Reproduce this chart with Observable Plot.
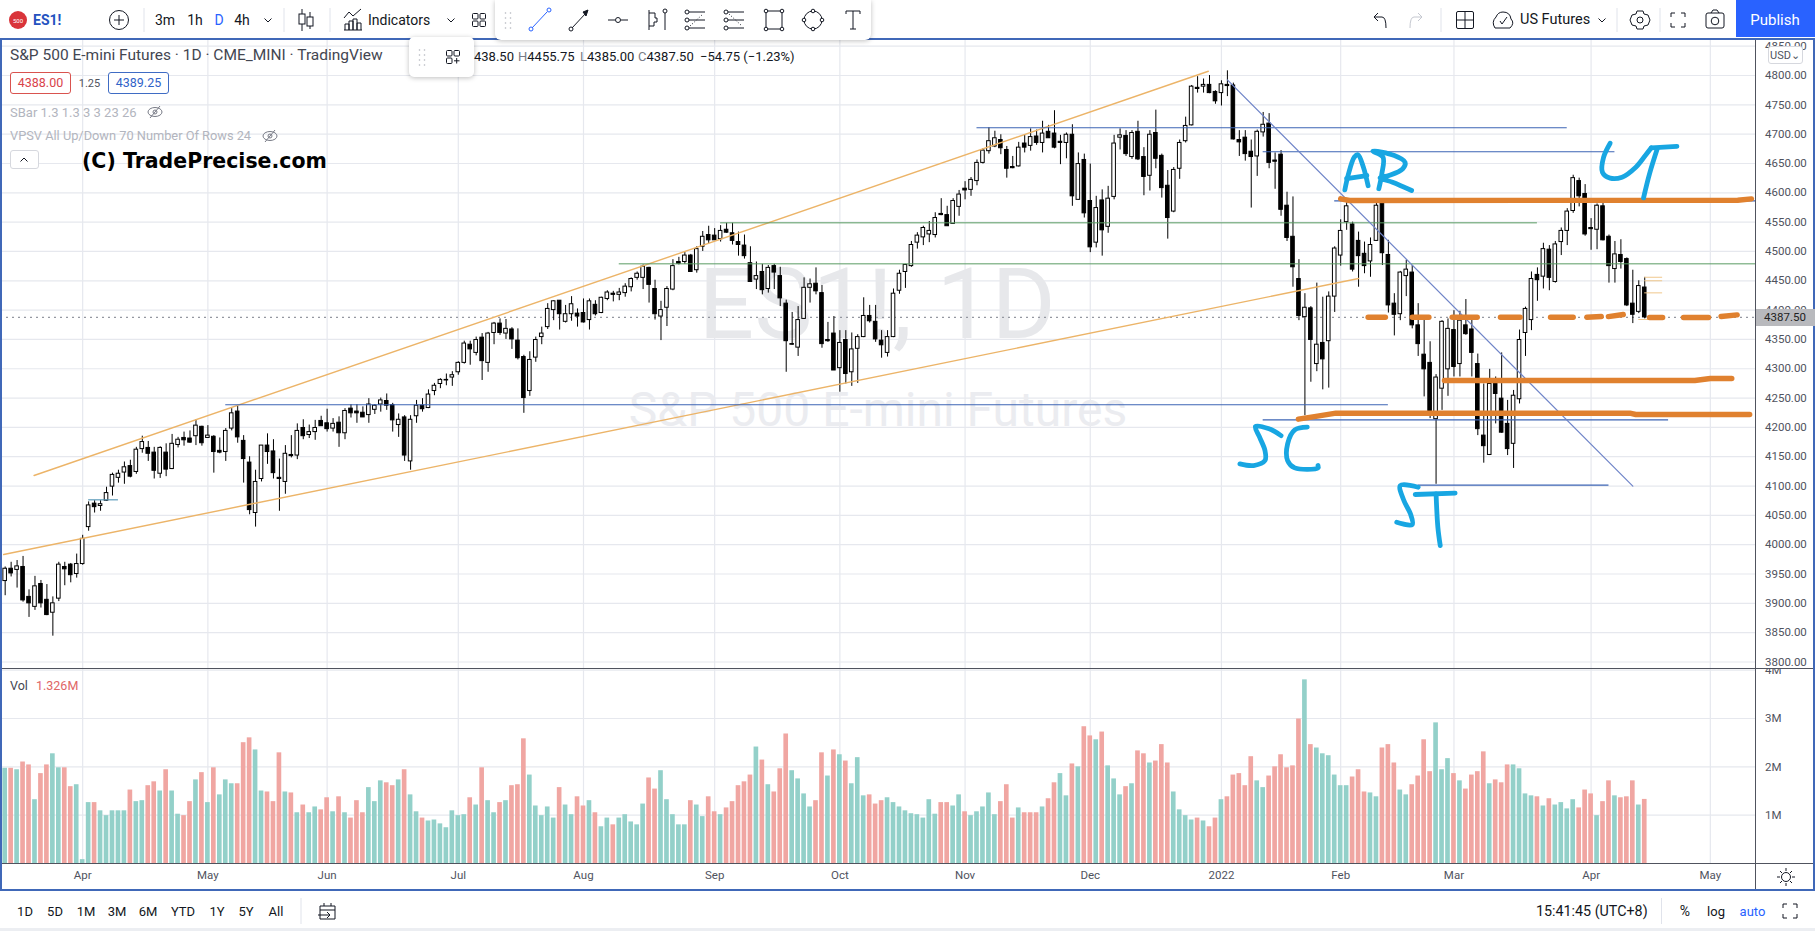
<!DOCTYPE html>
<html><head><meta charset="utf-8">
<script src="https://cdn.jsdelivr.net/npm/d3@7"></script>
<script src="https://cdn.jsdelivr.net/npm/@observablehq/plot@0.6"></script>
<style>
html,body{margin:0;padding:0;background:#fff;width:1815px;height:931px;overflow:hidden;font-family:Roboto,"Liberation Sans",sans-serif;color:#131722}
#stage{position:relative;width:1815px;height:931px;overflow:hidden}
#stage>div,#stage>svg{position:absolute}
.t{position:absolute;white-space:nowrap;line-height:1;transform:translateY(-50%)}
.c{transform:translate(-50%,-50%)}
.box{position:absolute;box-sizing:border-box}
</style></head><body><div id="stage"></div>
<script>
// ---------- values ----------
const opens=[3938,3959,3957,3962,3911,3894,3933,3906,3884,3908,
3962,3966,3950,3967,4030,4070,4066,4075,4099,4114,
4123,4134,4124,4163,4165,4157,4121,4157,4129,4170,
4182,4181,4185,4201,4182,4184,4160,4158,4198,4227,
4177,4140,4054,4112,4169,4159,4114,4107,4153,4152,
4199,4187,4192,4211,4207,4198,4208,4190,4232,4227,
4225,4221,4230,4239,4245,4238,4204,4217,4142,4219,
4237,4233,4262,4274,4280,4285,4294,4310,4341,4327,
4353,4310,4361,4377,4360,4367,4348,4320,4262,4319,
4354,4371,4400,4416,4380,4393,4394,4395,4383,4409,
4395,4419,4428,4426,4429,4439,4455,4455,4472,4436,
4389,4404,4435,4482,4482,4493,4468,4508,4528,4527,
4521,4537,4531,4516,4510,4480,4452,4465,4436,4475,
4458,4411,4342,4336,4385,4438,4445,4429,4349,4360,
4301,4349,4294,4334,4354,4390,4380,4348,4327,4354,
4433,4465,4475,4515,4524,4529,4528,4564,4562,4547,
4576,4607,4605,4620,4651,4671,4679,4690,4673,4644,
4645,4684,4680,4696,4685,4704,4701,4687,4685,4699,
4588,4656,4586,4515,4587,4542,4593,4694,4697,4661,
4704,4661,4629,4702,4663,4612,4568,4641,4688,4715,
4779,4781,4784,4772,4770,4784,4783,4690,4694,4670,
4662,4703,4718,4655,4665,4578,4525,4453,4388,4403,
4308,4344,4347,4423,4493,4550,4546,4518,4496,4483,
4518,4582,4494,4411,4393,4458,4464,4374,4324,4310,
4214,4266,4299,4366,4308,4374,4367,4308,4186,4153,
4277,4249,4206,4172,4248,4361,4383,4460,4457,4503,
4448,4516,4535,4569,4620,4598,4540,4537,4577,4525,
4470,4494,4487,4411,4397,4438.5];
const highs=[3962,3970,3973,3980,3923,3946,3939,3932,3911,3970,
3970,3968,3984,4016,4073,4075,4075,4098,4122,4127,
4141,4144,4166,4185,4176,4166,4167,4172,4188,4183,
4192,4194,4213,4202,4203,4186,4182,4198,4232,4236,
4186,4150,4127,4169,4189,4179,4146,4169,4186,4206,
4213,4204,4212,4219,4231,4215,4218,4232,4239,4239,
4235,4249,4239,4250,4257,4241,4223,4220,4220,4246,
4249,4264,4275,4283,4291,4295,4312,4347,4347,4354,
4360,4362,4379,4385,4384,4370,4368,4323,4329,4354,
4371,4411,4416,4416,4408,4423,4402,4419,4419,4416,
4422,4433,4432,4437,4445,4455,4465,4477,4473,4451,
4415,4440,4486,4490,4499,4495,4508,4534,4543,4539,
4544,4548,4548,4533,4528,4508,4482,4478,4476,4478,
4473,4417,4396,4406,4455,4453,4472,4442,4379,4389,
4365,4365,4361,4358,4421,4408,4408,4365,4365,4436,
4468,4478,4517,4532,4543,4551,4566,4590,4577,4590,
4604,4619,4626,4656,4675,4711,4705,4699,4679,4662,
4686,4698,4709,4707,4722,4715,4740,4698,4702,4716,
4668,4666,4649,4594,4605,4611,4698,4709,4706,4706,
4722,4677,4706,4741,4666,4638,4643,4690,4729,4783,
4798,4794,4800,4774,4791,4808,4787,4706,4706,4690,
4707,4737,4735,4668,4672,4601,4593,4486,4428,4406,
4446,4422,4431,4508,4554,4583,4550,4533,4516,4523,
4582,4584,4519,4428,4466,4485,4476,4411,4383,4346,
4290,4382,4385,4399,4398,4418,4388,4325,4274,4299,
4286,4327,4246,4263,4366,4405,4465,4472,4514,4510,
4517,4540,4573,4630,4625,4614,4556,4581,4582,4528,
4517,4520,4489,4468,4450,4455.75];
const lows=[3913,3945,3926,3902,3876,3888,3892,3879,3844,3903,
3930,3935,3943,3965,4023,4054,4057,4074,4083,4105,
4103,4114,4120,4156,4142,4112,4113,4116,4128,4165,
4168,4173,4169,4168,4181,4122,4155,4142,4194,4173,
4105,4051,4030,4107,4137,4112,4057,4086,4148,4145,
4179,4181,4178,4202,4192,4192,4166,4179,4216,4207,
4217,4207,4222,4226,4229,4192,4183,4142,4127,4207,
4226,4232,4254,4266,4271,4270,4289,4308,4306,4322,
4280,4294,4341,4357,4350,4333,4315,4224,4253,4311,
4341,4367,4382,4366,4378,4381,4371,4378,4366,4390,
4394,4416,4414,4416,4422,4431,4451,4435,4412,4383,
4348,4372,4433,4477,4478,4465,4463,4500,4513,4519,
4516,4531,4511,4492,4487,4448,4435,4426,4429,4435,
4406,4294,4340,4321,4384,4412,4426,4335,4345,4297,
4260,4274,4270,4275,4353,4378,4345,4318,4320,4353,
4427,4437,4473,4504,4510,4515,4523,4561,4543,4546,
4560,4588,4594,4612,4649,4666,4677,4665,4625,4641,
4644,4668,4671,4681,4668,4693,4675,4648,4658,4577,
4587,4557,4498,4506,4492,4531,4588,4673,4662,4657,
4655,4595,4603,4641,4591,4521,4566,4623,4685,4714,
4770,4770,4769,4751,4748,4764,4690,4662,4654,4574,
4628,4695,4641,4606,4560,4517,4439,4382,4220,4277,
4295,4264,4267,4396,4475,4536,4465,4439,4462,4456,
4517,4476,4395,4356,4382,4423,4368,4321,4252,4215,
4103,4229,4253,4286,4286,4357,4286,4186,4139,4152,
4206,4190,4152,4130,4240,4321,4365,4415,4436,4433,
4446,4493,4510,4565,4576,4526,4502,4503,4518,4446,
4446,4470,4406,4377,4394,4385];
const closes=[3959,3951,3963,3905,3900,3929,3900,3880,3900,3966,
3958,3948,3967,4010,4067,4064,4069,4088,4119,4121,
4132,4116,4162,4175,4155,4126,4165,4128,4172,4179,
4178,4174,4203,4173,4186,4158,4157,4194,4224,4183,
4146,4059,4107,4169,4158,4122,4112,4155,4151,4194,
4185,4192,4199,4202,4197,4206,4190,4228,4224,4224,
4217,4239,4237,4246,4237,4212,4213,4152,4213,4237,
4231,4256,4271,4281,4281,4289,4310,4343,4333,4349,
4313,4360,4377,4361,4368,4350,4318,4250,4315,4349,
4360,4402,4415,4393,4393,4410,4389,4379,4415,4393,
4421,4430,4426,4430,4440,4453,4462,4474,4443,4393,
4400,4436,4475,4479,4493,4465,4504,4525,4519,4519,
4535,4532,4518,4511,4492,4448,4458,4434,4472,4464,
4420,4347,4341,4383,4438,4444,4432,4342,4347,4297,
4344,4291,4333,4354,4390,4381,4350,4340,4354,4428,
4462,4477,4511,4527,4540,4535,4557,4562,4543,4586,
4597,4604,4622,4651,4672,4688,4693,4676,4641,4642,
4677,4677,4695,4685,4701,4693,4677,4685,4699,4594,
4649,4565,4507,4574,4536,4590,4684,4698,4666,4702,
4657,4627,4699,4658,4608,4557,4639,4685,4714,4781,
4777,4784,4770,4756,4785,4782,4691,4686,4666,4661,
4704,4716,4651,4653,4571,4523,4473,4390,4404,4349,
4341,4316,4423,4505,4535,4577,4469,4492,4475,4511,
4578,4497,4408,4392,4464,4469,4374,4342,4299,4228,
4285,4380,4368,4303,4382,4359,4327,4197,4168,4274,
4257,4191,4163,4254,4349,4402,4453,4451,4504,4455,
4512,4535,4568,4625,4594,4529,4538,4578,4519,4475,
4495,4482,4408,4392,4441,4387.5];
const volumes=[1.97,1.97,1.94,2.10,2.04,1.32,1.86,2.04,2.27,1.98,
1.98,1.59,1.63,0.08,1.26,1.26,1.09,0.99,1.09,1.09,
1.09,1.52,1.28,1.30,1.61,1.69,1.50,1.94,1.50,1.02,
0.99,1.28,1.73,1.88,1.26,1.98,1.42,1.73,1.65,1.65,
2.50,2.60,2.35,1.50,1.48,1.28,2.29,1.48,1.46,1.05,
1.21,1.05,1.17,1.11,1.36,1.07,1.38,1.05,0.94,1.30,
1.05,1.57,1.28,1.71,1.67,1.61,1.73,1.94,1.42,1.07,
0.94,0.88,0.90,0.82,0.74,1.09,0.99,1.01,1.36,1.21,
1.98,1.30,1.05,1.26,1.30,1.61,1.63,2.58,1.83,1.19,
0.99,1.17,0.94,1.57,1.21,1.01,1.38,1.19,1.30,1.05,
0.76,0.94,0.80,0.94,1.01,0.86,0.80,1.23,1.77,1.54,
1.92,1.32,1.01,0.80,0.80,1.30,1.21,0.97,1.38,1.07,
1.01,1.15,1.28,1.61,1.69,1.83,2.41,2.14,1.63,1.48,
1.96,2.68,1.92,1.75,1.44,1.17,1.30,2.29,1.81,2.35,
2.25,2.12,1.65,2.19,1.40,1.42,1.23,1.30,1.36,1.26,
1.17,1.09,1.03,1.01,0.94,1.32,1.02,1.26,1.26,1.19,
1.42,1.07,0.99,1.07,1.17,1.46,1.01,1.28,1.63,0.94,
1.15,1.05,1.05,1.05,1.17,1.34,1.67,1.86,1.40,2.06,
2.00,2.83,2.64,2.56,2.72,2.02,1.75,1.42,1.59,1.65,
2.33,2.27,2.08,2.12,2.46,2.08,1.48,1.11,0.99,0.90,
0.94,0.88,0.76,0.94,1.32,1.38,1.83,1.86,1.61,2.21,
1.71,1.57,1.81,2.00,2.25,1.98,2.02,2.99,3.80,2.46,
2.39,2.27,2.23,1.83,1.61,1.61,1.79,1.94,1.48,1.46,
1.38,2.39,2.46,2.08,1.52,1.42,1.63,1.81,2.56,1.90,
2.91,1.94,2.17,1.86,1.71,1.54,1.83,1.90,2.31,1.65,
1.73,1.67,2.04,2.04,1.96,1.44,1.40,1.38,1.19,1.34,
1.21,1.26,1.13,1.32,1.15,1.52,1.44,0.99,1.28,1.71,
1.40,1.36,1.38,1.71,1.21,1.326];
const volumeDirection=["TPTPPTPPTT","PPTTTPTTTT","TPTTPPTPTT","PPTPTPTTTP","PPTTPPPTPT","PTTPPTPTPP","PTTTPPTPTT","PTTTTTTTPT","PTTPTPPPTT","TTTPTTPPTP","TTPTTTTTPP","TTTTTPTTPP","TPPPPPTPTP","PPTTTTPPTP","TPTTTPPPTT","TTTTTTTPPT","TPTTTTTPPP","TPPPTPPTTP","TPPTPTTTPT","PPTPPPTTTT","PTPPTPPPPP","TTPPPPPPTP","TTTTTTPPPT","TPPPTTPPPP","TTTPTPPPPT","PPPTTTTPTP","TTTTPPPTPP","TPPPTP"].join("");
const monthTicks=[13,34,54,76,97,119,140,161,182,204,224,243,266,286];
const monthLabels=["Apr","May","Jun","Jul","Aug","Sep","Oct","Nov","Dec","2022","Feb","Mar","Apr","May"];
const priceTicks=[3800,3850,3900,3950,4000,4050,4100,4150,4200,4250,4300,4350,4400,4450,4500,4550,4600,4650,4700,4750,4800,4850];
const volumeTicks=[1,2,3,4];
const volumeTickLabels=["1M","2M","3M","4M"];
const lastPrice=4387.5;

// drawn tools: [bar index, price]
const orangeTrends=[[[4.85,4118],[201.8,4807.3]],[[-0.25,3983.3],[227,4453.9]]];
const blueLevels=[[37,232,4238.5],[163,262,4710.8],[211,270,4669.9],[211,279,4212.9],[237,269,4101.5],[223,293.6,4586.3]];
const tealLevels=[[14,19,4076.5]];
const greenLevels=[[120,257,4548.8],[103,293.6,4478.9]];
const blueTrend=[[205,4792.6],[273,4099.8]];
const tinyLevels=[[275,278,4456],[275,278,4450],[275,278,4429.4],[274,276,4384]];
const orangeStrokes=[
 [[224,4589.7],[225.5,4586.9],[290.6,4587.4],[292.9,4589.7]],
 [[241.4,4279.9],[283.4,4279.9],[286,4283.4],[289.6,4283.4]],
 [[216.9,4214],[219.6,4218.5],[223.2,4224.2],[272.5,4224.2],[273.5,4222],[292.6,4222]],
 [[228.6,4387.9],[231.5,4387.9]],[[236,4387.9],[238.8,4387.9]],[[242.7,4387.9],[246.9,4387.9]],
 [[250.8,4387.9],[254.1,4387.9]],[[259.2,4387.9],[263,4387.9]],[[265.3,4387.9],[267.7,4389]],
 [[268.9,4389],[271.4,4392.5]],[[275.8,4387.4],[278,4387.4]],[[281.5,4387.4],[285.7,4387.4]],
 [[287.8,4389],[290.5,4391.9]]];
const blueInk=[
 [[224.7,4605],[225.3,4632],[226.3,4661],[226.9,4665],[227.8,4644],[228.6,4612]],
 [[225,4624],[228.4,4629.5]],
 [[230.4,4607],[230.9,4632.3],[231.1,4660.8],[229.4,4671],[233,4663.6],[234.8,4652.2],[234.4,4640.9],[232.1,4629.5],[230.6,4625.5],[232.7,4618],[235.9,4603.9]],
 [[214,4186],[212,4197.5],[209.7,4201.5],[210.4,4183.3],[211.3,4160.6],[211.3,4143.5],[209.4,4135],[207.1,4137.8]],
 [[218.4,4200.4],[216.3,4195.8],[215.1,4172],[215.1,4143.5],[216.3,4131],[220.2,4131],[220.2,4135]],
 [[237,4098],[234,4100.9],[234.6,4075.3],[235.7,4052.6],[236,4034.4],[233.4,4038.4]],
 [[236.5,4085.6],[243.2,4087.8]],
 [[240,4086.7],[240.3,4029.8],[240.7,3998.6]],
 [[269.2,4684.6],[268.1,4660.8],[267.9,4635.2],[269.2,4625],[271.2,4626.7],[273.5,4643.7],[275.1,4663.6],[276.1,4676.7]],
 [[276.1,4676.7],[280.4,4679]],
 [[277.1,4675],[275.8,4632.3],[274.8,4591.4]]];

// ---------- tables ----------
const bars=opens.map((o,i)=>({i,open:o,high:highs[i],low:lows[i],close:closes[i],vol:volumes[i],dir:volumeDirection[i]}));
const upBars=bars.filter(b=>b.close>=b.open), downBars=bars.filter(b=>b.close<b.open);
const GRID="#e6e8ee", AXIS="#50535e", INK="#131722";
const xDomain=[-0.783,293.66];
const levelMark=(rows,stroke,w=1)=>Plot.ruleY(rows,{x1:d=>d[0],x2:d=>d[1],y:d=>d[2],stroke,strokeWidth:w});
const lineOf=(pts,o)=>Plot.line(pts,{x:d=>d[0],y:d=>d[1],...o});

const price=Plot.plot({
 width:1815,height:629,marginTop:0,marginBottom:0,marginLeft:0,marginRight:59.5,
 style:{fontFamily:"Roboto,sans-serif",fontSize:"11.5px",background:"transparent",color:AXIS},
 x:{domain:xDomain,axis:null},
 y:{domain:[3788.9,4861.4]},
 marks:[
  Plot.ruleX(monthTicks,{stroke:GRID,strokeWidth:1.2}),
  Plot.ruleY(priceTicks,{stroke:GRID,strokeWidth:1.2}),
  Plot.text([{x:116.3,y:4406,t:"ES1!, 1D"}],{x:"x",y:"y",text:"t",textAnchor:"start",fontSize:98,fill:"#e7e8eb"}),
  Plot.text([{x:104.6,y:4228.8,t:"S&P 500 E-mini Futures"}],{x:"x",y:"y",text:"t",textAnchor:"start",fontSize:48,fill:"#ebecf0"}),
  Plot.ruleY([lastPrice],{stroke:"#9598a1",strokeWidth:1.3,strokeDasharray:"2 4"}),
  Plot.ruleX(bars,{x:"i",y1:"low",y2:"high",stroke:"#000",strokeWidth:1}),
  Plot.rect(upBars,{x1:d=>d.i-0.3,x2:d=>d.i+0.3,y1:"open",y2:"close",fill:"#fff",stroke:"#000",strokeWidth:1}),
  Plot.rect(downBars,{x1:d=>d.i-0.3,x2:d=>d.i+0.3,y1:"open",y2:"close",fill:"#000",stroke:"#000",strokeWidth:1}),
  ...orangeTrends.map(t=>lineOf(t,{stroke:"#ecb468",strokeWidth:1.4})),
  levelMark(blueLevels,"#3d65b4",1.1),
  levelMark(tealLevels,"#4f93b4",1.1),
  levelMark(greenLevels,"#5a9c63",1),
  lineOf(blueTrend,{stroke:"#6f84c8",strokeWidth:1.2}),
  levelMark(tinyLevels,"#f0c78c",1),
  ...orangeStrokes.map(s=>lineOf(s,{stroke:"#e0812f",strokeWidth:5.4,strokeLinecap:"round",strokeLinejoin:"round"})),
  ...blueInk.map(s=>lineOf(s,{stroke:"#18a6e2",strokeWidth:4.8,strokeLinecap:"round",strokeLinejoin:"round",curve:"catmull-rom"})),
  Plot.axisY({anchor:"right",ticks:priceTicks,tickSize:0,tickPadding:9,label:null,tickFormat:d=>d.toFixed(2),fill:AXIS})
 ]
});

const volume=Plot.plot({
 width:1815,height:222,marginTop:0,marginBottom:27,marginLeft:0,marginRight:59.5,
 style:{fontFamily:"Roboto,sans-serif",fontSize:"11.5px",background:"transparent",color:AXIS},
 x:{domain:xDomain},
 y:{domain:[0,4.035]},
 marks:[
  Plot.ruleX(monthTicks,{stroke:GRID,strokeWidth:1.2}),
  Plot.ruleY(volumeTicks,{stroke:GRID,strokeWidth:1.2}),
  Plot.rectY(bars.filter(b=>b.dir==="T"),{x1:d=>d.i-0.39,x2:d=>d.i+0.39,y1:0,y2:"vol",fill:"#93d0c9"}),
  Plot.rectY(bars.filter(b=>b.dir==="P"),{x1:d=>d.i-0.39,x2:d=>d.i+0.39,y1:0,y2:"vol",fill:"#f0a6a2"}),
  Plot.axisY({anchor:"right",ticks:volumeTicks,tickSize:0,tickPadding:9,label:null,tickFormat:d=>volumeTickLabels[volumeTicks.indexOf(d)],fill:AXIS}),
  Plot.axisX({ticks:monthTicks,tickSize:0,tickPadding:7,label:null,tickFormat:d=>monthLabels[monthTicks.indexOf(d)],fill:AXIS})
 ]
});

// ---------- page ----------
const stage=document.getElementById("stage");
const place=(el,l,t)=>{const w=document.createElement("div");w.style.cssText=`left:${l}px;top:${t}px`;w.appendChild(el);stage.appendChild(w);};
place(price,0,39); place(volume,0,668);

const html=(s)=>{const w=document.createElement("div");w.style.cssText="left:0;top:0;width:1815px;height:931px";w.innerHTML=s;stage.appendChild(w);};
const box=(l,t,w,h,st)=>`<div class="box" style="left:${l}px;top:${t}px;width:${w}px;height:${h}px;${st}"></div>`;
const T=(x,y,s,st="",c=false)=>`<div class="t${c?" c":""}" style="left:${x}px;top:${y}px;${st}">${s}</div>`;
const CT=(x,y,s,st="")=>T(x,y,s,st,true);
const BLUE="#2962ff",FRAME="#4068b8";
let h="";
// frame and panel rules
h+=box(0,0,1815,38,"background:#fff");
h+=box(0,890,1815,41,"background:#fff");
h+=box(0,928,1815,3,"background:#eceef2");
h+=box(0,38,1815,2.4,`background:${FRAME}`);
h+=box(0,888.6,1815,2.4,`background:${FRAME}`);
h+=box(0,38,2.4,853,`background:${FRAME}`);
h+=box(1812.8,38,2.2,853,`background:${FRAME}`);
h+=box(2,667.6,1811,1.4,"background:#50535e");
h+=box(2,862.6,1811,1,"background:#50535e");
h+=box(1755,40,1,849,"background:#50535e");
// last price tag
h+=box(1755.6,309,59,17,"background:#b8b9bd");
h+=CT(1785,317.5,"4387.50","font-size:11.5px;color:#222");
// usd button
h+=box(1768,46,35,18,"background:#fff;border:1px solid #d6d8de;border-radius:3px");
h+=CT(1785,55,"USD&#8964;","font-size:11px;color:#50535e");
// floating bars
h+=box(495,0,376,40,"background:#fff;border-radius:0 0 6px 6px;box-shadow:0 1px 5px rgba(0,0,0,.25)");
h+=box(409,37,65,40,"background:#fff;border-radius:5px;box-shadow:0 1px 5px rgba(0,0,0,.25)");
// toolbar text
const tb="font-size:14px;color:#131722";
h+=T(33,20,"ES1!","font-size:14px;font-weight:700;color:#2452c0");
h+=CT(165,20,"3m",tb);h+=CT(195,20,"1h",tb);h+=CT(219,20,"D",tb+";color:#2962ff");h+=CT(242,20,"4h",tb);
h+=T(368,20,"Indicators",tb);
h+=T(1520,20,"US Futures","font-size:14.5px;color:#131722");
h+=box(1735.6,0,79.4,37,`background:${BLUE}`);
h+=CT(1775,20,"Publish","font-size:15px;color:#fff");
// legend text
h+=T(10,56,'S&amp;P 500 E-mini Futures · 1D · CME_MINI · TradingView',"font-size:15.5px;color:#434651");
const leg="font-size:13px;color:#131722";
h+=T(474,56,'438.50',leg);
h+=T(518,56,'<span style="color:#787b86">H</span>4455.75',leg);
h+=T(580,56,'<span style="color:#787b86">L</span>4385.00',leg);
h+=T(638,56,'<span style="color:#787b86">C</span>4387.50',leg);
h+=T(700,56,'−54.75 (−1.23%)',leg);
h+=box(10,72,61,22,"background:#fff;border:1px solid #d9534f;border-radius:3px");
h+=CT(40.5,83,"4388.00","font-size:12.5px;color:#d9434a");
h+=CT(89.5,83,"1.25","font-size:11px;color:#50535e");
h+=box(108,72,61,22,"background:#fff;border:1px solid #3f6cc4;border-radius:3px");
h+=CT(138.5,83,"4389.25","font-size:12.5px;color:#2f62c8");
h+=T(10,112,"SBar 1.3 1.3 3 3 23 26","font-size:13px;color:#b2b5be");
h+=T(10,136,"VPSV All Up/Down 70 Number Of Rows 24","font-size:12.8px;color:#b2b5be");
h+=box(10,150,28.5,19,"background:#fff;border:1px solid #d6d8de;border-radius:3px");
h+=T(82,161,"(C) TradePrecise.com","font-family:'DejaVu Sans',sans-serif;font-weight:700;font-size:20.5px;color:#000");
h+=T(10,686,"Vol","font-size:12.5px;color:#434651");
h+=T(36,686,"1.326M","font-size:12.5px;color:#e06666");
// footer
const fb="font-size:13px;color:#131722";
[["1D",25],["5D",55],["1M",86],["3M",117],["6M",148],["YTD",183],["1Y",217],["5Y",246],["All",276]].forEach(([s,x])=>h+=CT(x,911,s,fb));
h+=T(1536,911,"15:41:45 (UTC+8)","font-size:14.3px;color:#131722");
h+=CT(1685,911,"%","font-size:14px;color:#131722");h+=CT(1716,911,"log",fb);h+=CT(1752.5,911,"auto",fb+";color:#2962ff");
html(h);

// chrome icons
const ic=(x,y,inner,st='stroke="#131722"')=>`<g transform="translate(${x},${y})" fill="none" ${st} stroke-width="1">${inner}</g>`;
const sep=(x,y1,y2)=>`<line x1="${x}" x2="${x}" y1="${y1}" y2="${y2}" stroke="#e0e3eb"/>`;
const chev=(x,y)=>ic(x,y,'<path d="M-3.5,-1.5 L0,2 L3.5,-1.5"/>');
const grid4=(x,y,plus)=>ic(x,y,`<rect x="-6.5" y="-6.5" width="5.5" height="5.5" rx="1"/><rect x="1" y="-6.5" width="5.5" height="5.5" rx="1"/><rect x="-6.5" y="1" width="5.5" height="5.5" rx="1"/>`+(plus?'<path d="M1,3.8 H6.5 M3.7,1 V6.5"/>':'<rect x="1" y="1" width="5.5" height="5.5" rx="1"/>'));
const grip=(x,y)=>ic(x,y,[-7,-2,3,8].map(d=>`<circle cx="-2.5" cy="${d}" r=".8" fill="#b2b5be" stroke="none"/><circle cx="2.5" cy="${d}" r=".8" fill="#b2b5be" stroke="none"/>`).join(""));
const eye=(x,y)=>ic(x,y,'<ellipse cx="0" cy="0" rx="7" ry="4.5"/><circle r="2"/><path d="M-5,6 L5,-6"/>','stroke="#787b86"');
const full=(x,y)=>ic(x,y,'<path d="M-7,-3 V-7 H-3 M3,-7 H7 V-3 M7,3 V7 H3 M-3,7 H-7 V3"/>');
let s=`<svg xmlns="http://www.w3.org/2000/svg" width="1815" height="931" style="left:0;top:0;pointer-events:none">`;
s+=`<circle cx="18" cy="20" r="9" fill="#d9343a"/><text x="18" y="22.5" font-size="6" fill="#fff" text-anchor="middle" font-family="Roboto">500</text>`;
s+=ic(119,20,'<circle r="9.5"/><path d="M-5,0 H5 M0,-5 V5"/>');
s+=sep(144,8,32)+chev(268,20)+sep(284,8,32)+sep(330,8,32);
s+=ic(306,20,'<path d="M-4,-11 V11 M4,-8 V9"/><rect x="-7" y="-6" width="6" height="10" fill="#fff"/><rect x="1" y="-3" width="6" height="9" fill="#fff"/>');
s+=ic(353,20,'<path d="M-9,-2 L-4,-8 L0,-4 L8,-11"/><path d="M-8,10 V4 H-4 V10 M-4,10 V1 H0 V10 M0,10 V-1 H4 V10 M4,10 V3 H8 V10 M-9,10 H9"/>');
s+=chev(451,20)+grid4(479,20,false)+grip(508,20);
s+=ic(540,20,'<path d="M-8,8 L7,-8"/><circle cx="-9" cy="9" r="2"/><circle cx="9" cy="-10" r="2"/>','stroke="#2962ff"');
s+=ic(580,20,'<path d="M-8,8 L6,-7"/><circle cx="-9" cy="9" r="2"/><path d="M8,-10 L3,-8 L6,-4 Z" fill="#131722"/>');
s+=ic(618,20,'<path d="M-10,0 H-3 M3,0 H10"/><circle r="2.5"/>');
s+=ic(657,20,'<path d="M-8,-10 V10 M-8,-7 H-2 V-2 H0 V2 H-3 V6 H-8 M8,-7 V10"/><circle cx="8" cy="-9" r="2"/>');
s+=ic(696,20,'<path d="M-7,-8 H9 M-7,0 H9 M-7,8 H9"/><circle cx="-9" cy="-8" r="2"/><circle cx="-9" cy="0" r="2"/><circle cx="-9" cy="8" r="2"/><path d="M-6,6 L7,-6" stroke-dasharray="1 2"/>');
s+=ic(735,20,'<path d="M-7,-8 H9 M-7,0 H9 M-7,8 H9"/><circle cx="-9" cy="-8" r="2"/><circle cx="-9" cy="0" r="2"/><circle cx="-9" cy="8" r="2"/><path d="M-6,-6 L7,6" stroke-dasharray="1 2"/>');
s+=ic(774,20,'<rect x="-8" y="-9" width="16" height="18"/><circle cx="-8" cy="-9" r="1.8" fill="#fff"/><circle cx="8" cy="-9" r="1.8" fill="#fff"/><circle cx="-8" cy="9" r="1.8" fill="#fff"/><circle cx="8" cy="9" r="1.8" fill="#fff"/>');
s+=ic(813,20,'<circle r="9"/><circle cx="-9" cy="0" r="1.8" fill="#fff"/><circle cx="9" cy="0" r="1.8" fill="#fff"/><circle cx="0" cy="-9" r="1.8" fill="#fff"/><circle cx="0" cy="9" r="1.8" fill="#fff"/>');
s+=ic(853,20,'<path d="M-7,-6 V-9 H7 V-6 M0,-9 V9 M-3,9 H3"/>');
s+=grip(422,57)+grid4(453,57,true);
s+=ic(1380,20,'<path d="M-6,-3 L-2,-7 M-6,-3 L-2,1 M-6,-3 H2 Q6,-3 6,8"/>');
s+=ic(1416,20,'<path d="M6,-3 L2,-7 M6,-3 L2,1 M6,-3 H-2 Q-6,-3 -6,8"/>','stroke="#c5c8d0"');
s+=sep(1441,8,32)+sep(1617,8,32)+sep(1660,8,32);
s+=ic(1465,20,'<rect x="-8.5" y="-8.5" width="17" height="17" rx="1.5"/><path d="M0,-8.5 V8.5 M-8.5,0 H8.5"/>');
s+=ic(1503,20,'<path d="M-8,8 H7 Q12,3 8,-1 Q7,-8 0,-8 Q-5,-8 -7,-3 Q-12,2 -8,8 Z"/><path d="M-3,1 L-1,4 L4,-3"/>');
s+=chev(1602,20);
s+=ic(1640,20,'<circle r="3"/><path d="M-3,-9 H3 L4,-6 L8,-5 L10,0 L8,5 L4,6 L3,9 H-3 L-4,6 L-8,5 L-10,0 L-8,-5 L-4,-6 Z"/>');
s+=full(1678,20);
s+=ic(1715,20,'<rect x="-9" y="-7" width="18" height="15" rx="2"/><circle cy="1" r="3.8"/><path d="M-4,-7 L-2,-10 H2 L4,-7"/>');
s+=eye(155,112)+eye(270,136);
s+=ic(24,160,'<path d="M-3.5,1.5 L0,-2 L3.5,1.5"/>');
s+=ic(1786,877,'<circle r="4.5"/><path d="M0,-9 V-6 M0,6 V9 M-9,0 H-6 M6,0 H9 M-6,-6 L-4,-4 M4,4 L6,6 M-6,6 L-4,4 M4,-4 L6,-6"/>');
s+=sep(301,898,924)+sep(1661.5,898,924);
s+=ic(327,911,'<path d="M-7,-5 H8 V8 H-7 Z M-3,-8 V-5 M4,-8 V-5 M-7,-1 H8"/><path d="M-9,4 H3 M0,1 L3,4 L0,7"/>');
s+=full(1790,911);
s+=`</svg>`;
const tmp=document.createElement("div");tmp.innerHTML=s;const svgEl=tmp.firstChild;svgEl.style.position="absolute";stage.appendChild(svgEl);
</script></body></html>
